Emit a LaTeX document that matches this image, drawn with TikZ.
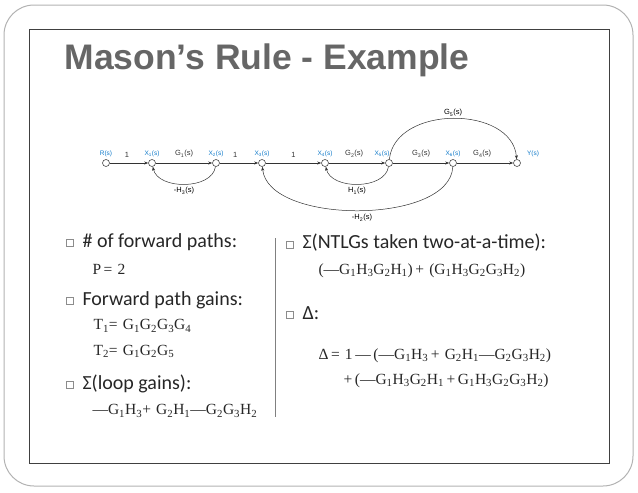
\documentclass[tikz,border=0pt]{standalone}
\usepackage{fontspec}
\setmainfont{Carlito}
\newfontfamily\ttl{Liberation Sans}
\newfontfamily\mth{Liberation Serif}
\newfontfamily\gsf{Liberation Sans}
\usetikzlibrary{arrows.meta}
\newcommand{\subs}[1]{\textsubscript{#1}}
\begin{document}
\begin{tikzpicture}[x=1pt,y=-1pt,
  sn/.style={circle,draw=black!70,fill=white,inner sep=0pt,minimum size=7pt,line width=0.6pt},
  br/.style={-{Stealth[length=4pt,width=3pt]},line width=0.5pt,black!80},
  nl/.style={font=\gsf\fontsize{6.5}{7}\selectfont,text=cyan!60!blue},
  bl/.style={font=\gsf\fontsize{7.5}{8}\selectfont},
  bul/.style={draw=black!45,minimum size=7pt,inner sep=0pt,line width=0.4pt},
  it/.style={anchor=west,font=\fontsize{20}{22}\selectfont,text=black!85},
  fm/.style={anchor=west,font=\mth\fontsize{15.5}{17}\selectfont,text=black!85}]
\useasboundingbox (0,0) rectangle (638,493);
\draw[black!30,line width=1pt,rounded corners=30pt] (4,5) rectangle (633,486);
\draw[black!75,line width=0.8pt] (29,29) rectangle (609,463);
\node[anchor=west,font=\ttl\bfseries\fontsize{35.5}{38}\selectfont,text=black!60] (title) at (61,60) {Mason’s Rule - Example};
% graph
\node[sn] (R) at (106,163) {};
\node[sn] (X1) at (152,163) {};
\node[sn] (X2) at (216,163) {};
\node[sn] (X3) at (262,163) {};
\node[sn] (X4) at (325,163) {};
\node[sn] (X5) at (389,163) {};
\node[sn] (X6) at (453,163) {};
\node[sn] (Y) at (517,163) {};
\node[nl] (lR) at (106,154) {R(s)};
\node[nl] (l1) at (152,154) {X\subs{1}(s)};
\node[nl] (l2) at (216,154) {X\subs{2}(s)};
\node[nl] (l3) at (262,154) {X\subs{3}(s)};
\node[nl] (l4) at (325,154) {X\subs{4}(s)};
\node[nl] (l5) at (382,154) {X\subs{5}(s)};
\node[nl] (l6) at (453,154) {X\subs{6}(s)};
\node[nl] (lY) at (533,154) {Y(s)};
\draw[br] (R) -- node[bl,above=2pt,pos=0.45]{1} (X1);
\draw[br] (X1) -- node[bl,above=2pt]{G\subs{1}(s)} (X2);
\draw[br] (X2) -- node[bl,above=2pt,pos=0.4]{1} (X3);
\draw[br] (X3) -- node[bl,above=2pt]{1} (X4);
\draw[br] (X4) -- node[bl,above=2pt,pos=0.45]{G\subs{2}(s)} (X5);
\draw[br] (X5) -- node[bl,above=2pt]{G\subs{3}(s)} (X6);
\draw[br] (X6) -- node[bl,above=2pt,pos=0.45]{G\subs{4}(s)} (Y);
\draw[br] (X2) .. controls (212,190) and (158,190) .. (X1);
\node[bl] (h3) at (184,191) {-H\subs{3}(s)};
\draw[br] (X5) .. controls (385,190) and (331,190) .. (X4);
\node[bl] (h1) at (357,191) {H\subs{1}(s)};
\draw[br] (X6) .. controls (450,225) and (268,225) .. (X3);
\node[bl] (h2) at (362,218) {-H\subs{2}(s)};
\draw[br] (X5) .. controls (395,105) and (512,105) .. (Y);
\node[bl] (g5) at (453,113) {G\subs{5}(s)};
% left column
\node[bul] (b1) at (70,243) {};
\node[it] (t1) at (79,242) {\# of forward paths:};
\node[fm] (t1a) at (89,269) {P\,=\,\,2};
\node[bul] (b2) at (70,301) {};
\node[it] (t2) at (79,300) {Forward path gains:};
\node[fm] (t2a) at (90,326) {T\subs{1}=\,\,G\subs{1}G\subs{2}G\subs{3}G\subs{4}};
\node[fm] (t2b) at (90,351) {T\subs{2}=\,\,G\subs{1}G\subs{2}G\subs{5}};
\node[bul] (b3) at (70,385) {};
\node[it] (t3) at (79,384) {Σ(loop gains):};
\node[fm] (t3a) at (89,411) {—G\subs{1}H\subs{3}+\,\,G\subs{2}H\subs{1}—G\subs{2}G\subs{3}H\subs{2}};
\draw[black!50,line width=0.6pt] (275,238) -- (275,417);
% right column
\node[bul] (b4) at (290,245) {};
\node[it] (t4) at (299,243) {Σ(NTLGs taken two-at-a-time):};
\node[fm] (t4a) at (315,271) {(—G\subs{1}H\subs{3}G\subs{2}H\subs{1})\,+\,\,(G\subs{1}H\subs{3}G\subs{2}G\subs{3}H\subs{2})};
\node[bul] (b5) at (290,315) {};
\node[it] (t5) at (299,313) {Δ:};
\node[fm] (t5a) at (315,356) {Δ\,=\,\,1\,—\,(—G\subs{1}H\subs{3}\,+\,\,G\subs{2}H\subs{1}—G\subs{2}G\subs{3}H\subs{2})};
\node[fm] (t5b) at (340,381) {+\,(—G\subs{1}H\subs{3}G\subs{2}H\subs{1}\,+\,G\subs{1}H\subs{3}G\subs{2}G\subs{3}H\subs{2})};
\end{tikzpicture}
\end{document}
